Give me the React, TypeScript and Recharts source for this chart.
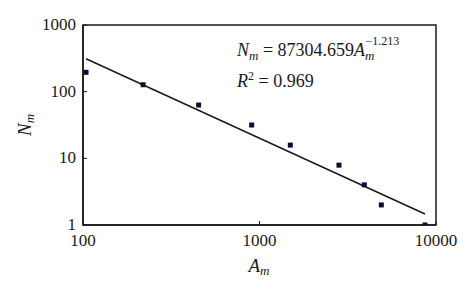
import { ScatterChart, Scatter, XAxis, YAxis, ReferenceArea } from "recharts";

// values (log-log)
const areaValues = [104, 219, 452, 903, 1495, 2820, 3925, 4900, 8660];
const countValues = [195, 127, 63, 31.6, 15.8, 7.9, 4, 2, 1];
const fitArea = [104, 8660];
const fitCount = [312, 1.46];
const xTicks = [100, 1000, 10000];
const yTicks = [1, 10, 100, 1000];

const points = areaValues.map((a, i) => ({ a, n: countValues[i] }));
const fitLine = fitArea.map((a, i) => ({ a, n: fitCount[i] }));

const FONT = "'Liberation Serif', 'DejaVu Serif', serif";
const INK = "#1a1a1a";

function XTick(props: any) {
  const { x, y, payload } = props;
  return (
    <g>
      <line x1={x} x2={x} y1={y} y2={y - 4} stroke={INK} strokeWidth={1} />
      <text x={x} y={y + 21} textAnchor="middle" fontSize={17} fontFamily={FONT} fill={INK}>
        {payload.value}
      </text>
    </g>
  );
}

function YTick(props: any) {
  const { x, y, payload } = props;
  return (
    <g>
      <line x1={x} x2={x + 4} y1={y} y2={y} stroke={INK} strokeWidth={1} />
      <text x={x - 7} y={y + 5} textAnchor="end" fontSize={17} fontFamily={FONT} fill={INK}>
        {payload.value}
      </text>
    </g>
  );
}

function SquareDot(props: any) {
  const { cx, cy } = props;
  return <rect x={cx - 2.5} y={cy - 2.5} width={5} height={5} fill="#0d0d30" />;
}

export default function App() {
  return (
    <div style={{ position: "absolute", left: 0, top: 0, width: 474, height: 294, background: "#fff" }}>
      <ScatterChart width={474} height={294} margin={{ top: 25, right: 38, bottom: 0, left: 0 }}>
        <XAxis
          dataKey="a"
          type="number"
          scale="log"
          domain={[100, 10000]}
          ticks={xTicks}
          allowDataOverflow
          height={69}
          tickSize={0}
          tickMargin={0}
          tickLine={false}
          tick={<XTick />}
          axisLine={{ stroke: INK, strokeWidth: 1.5 }}
        />
        <YAxis
          dataKey="n"
          type="number"
          scale="log"
          domain={[1, 1000]}
          ticks={yTicks}
          allowDataOverflow
          width={83}
          tickSize={0}
          tickMargin={0}
          tickLine={false}
          tick={<YTick />}
          axisLine={{ stroke: INK, strokeWidth: 1.5 }}
        />
        <ReferenceArea x1={100} x2={10000} y1={1} y2={1000} fill="none" stroke={INK} strokeWidth={1.5} ifOverflow="visible" />
        <Scatter data={fitLine} line={{ stroke: INK, strokeWidth: 1.5 }} shape={() => <g />} isAnimationActive={false} />
        <Scatter data={points} shape={<SquareDot />} isAnimationActive={false} />
        <text x={27} y={125} transform="rotate(-90 27 125)" textAnchor="middle" dominantBaseline="middle" fontSize={19} fontFamily={FONT} fontStyle="italic" fill={INK}>
          N<tspan fontSize={13} dy={4}>m</tspan>
        </text>
        <text x={259} y={272} textAnchor="middle" fontSize={19} fontFamily={FONT} fontStyle="italic" fill={INK}>
          A<tspan fontSize={13} dy={3}>m</tspan>
        </text>
        <text x={237} y={56} fontSize={18} fontFamily={FONT} fill={INK}>
          <tspan fontStyle="italic">N</tspan>
          <tspan fontStyle="italic" fontSize={13} dy={4}>m</tspan>
          <tspan dy={-4}> = 87304.659</tspan>
          <tspan fontStyle="italic">A</tspan>
          <tspan fontStyle="italic" fontSize={13} dy={4}>m</tspan>
          <tspan fontSize={12} dx={-9} dy={-15}>−1.213</tspan>
        </text>
        <text x={237} y={87} fontSize={18} fontFamily={FONT} fill={INK}>
          <tspan fontStyle="italic">R</tspan>
          <tspan fontSize={12} dy={-7}>2</tspan>
          <tspan dy={7}> = 0.969</tspan>
        </text>
      </ScatterChart>
    </div>
  );
}
